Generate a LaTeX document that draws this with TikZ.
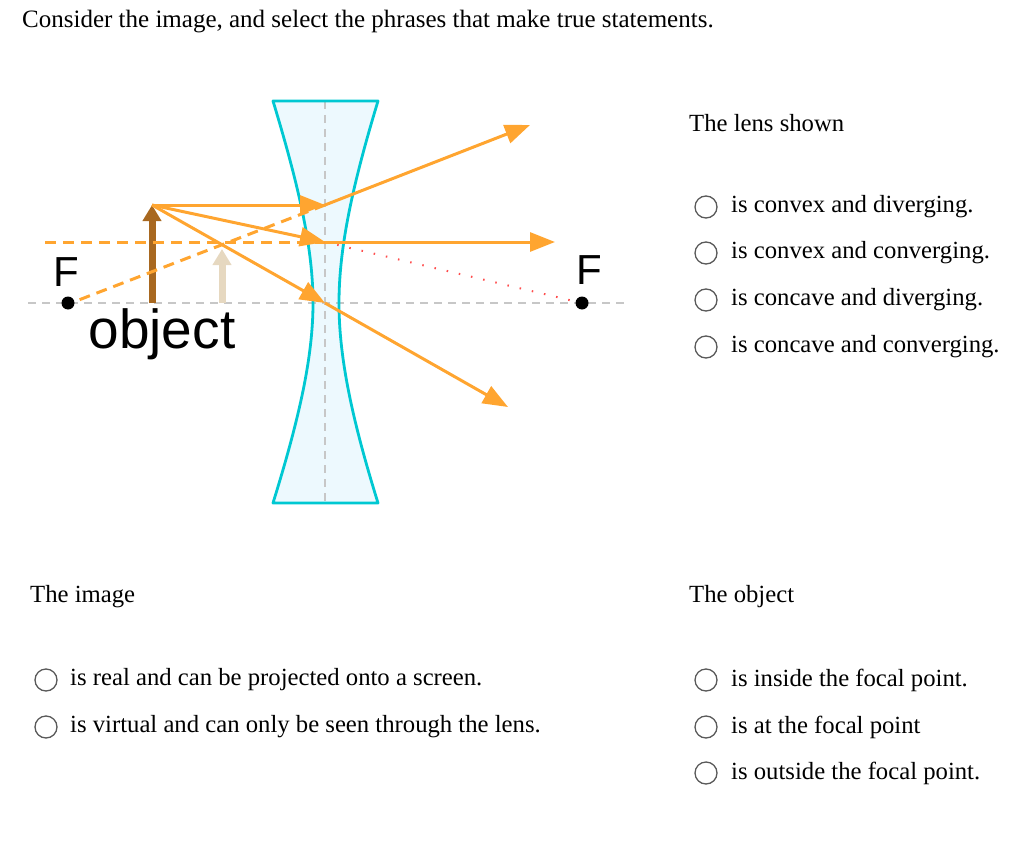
\documentclass[tikz,border=0pt]{standalone}
\usepackage{fontspec}
\setmainfont{Liberation Serif}
\newfontfamily\arial{Liberation Sans}
\usetikzlibrary{arrows.meta}
\begin{document}
\begin{tikzpicture}[x=1pt,y=-1pt,
  ray/.style={draw={rgb,255:red,255;green,165;blue,48},line width=3pt},
  rayarr/.style={ray,-{Triangle[length=25pt,width=19pt]}},
  dray/.style={ray,dash pattern=on 11pt off 7pt},
  axis/.style={draw=black!22,line width=1.5pt,dash pattern=on 8pt off 6pt},
  radio/.style={circle,draw=black!65,line width=1.3pt,minimum size=22pt,inner sep=0pt},
  opt/.style={anchor=west,font=\fontsize{24.7}{26}\selectfont,inner sep=0pt},
  head/.style={anchor=west,font=\fontsize{24.7}{26}\selectfont,inner sep=0pt},
  lensout/.style={draw={rgb,255:red,0;green,200;blue,210},line width=2.8pt,line join=round}]
\useasboundingbox (0,0) rectangle (1024,861);
\node[anchor=west,inner sep=0pt,font=\fontsize{25}{27}\selectfont] (title) at (22,22) {Consider the image, and select the phrases that make true statements.};
% lens
\def\lenspath{(273,101) .. controls (300,190) and (313,250) .. (313,303) .. controls (313,356) and (300,416) .. (273,503) -- (378,503) .. controls (351,416) and (339,356) .. (339,303) .. controls (339,250) and (351,190) .. (378,101) -- cycle}
\fill[cyan!7] \lenspath;
\draw[axis] (325,101) -- (325,503);
\draw[axis] (28,303) -- (625,303);
\draw[lensout] \lenspath;
% points
\coordinate (O) at (152,205);
\coordinate (A) at (325,205);
\coordinate (B) at (325,242);
\coordinate (C) at (325,303);
\coordinate (Fl) at (68,303);
\coordinate (Fr) at (582,303);
\coordinate (E1) at (530,125);
\coordinate (E2) at (555,242);
\coordinate (E3) at (508,407);
\coordinate (D1) at (58,308);
\coordinate (D2) at (45,242);
% object and image arrows
\draw[draw={rgb,255:red,168;green,104;blue,32},line width=7pt,-{Triangle[length=16pt,width=18pt]}] (152,303) -- (O);
\draw[draw={rgb,255:red,230;green,216;blue,192},line width=7pt,-{Triangle[length=16pt,width=18pt]}] (222,303) -- (222,249);
% rays
\draw[dray] (A) -- (D1);
\draw[dray] (D2) -- (B);
\draw[red!70,line width=2pt,dash pattern=on 1.5pt off 11pt] (B) -- (Fr);
\draw[rayarr] (O) -- (A);
\draw[rayarr] (O) -- (B);
\draw[rayarr] (O) -- (C);
\draw[rayarr] (A) -- (E1);
\draw[rayarr] (B) -- (E2);
\draw[rayarr] (C) -- (E3);
\fill (Fl) circle (6.5pt);
\fill (Fr) circle (6.5pt);
\node[font=\arial\fontsize{42}{42}\selectfont,inner sep=0pt] (FL) at (66,272) {F};
\node[font=\arial\fontsize{42}{42}\selectfont,inner sep=0pt] (FR) at (589,270) {F};
\node[font=\arial\fontsize{55}{55}\selectfont,inner sep=0pt] (obj) at (162,334) {object};
% questions
\node[head] (h1) at (689,123) {The lens shown};
\foreach \y/\t [count=\i] in {207/is convex and diverging., 253/is convex and converging., 300/is concave and diverging., 347/is concave and converging.}{
  \node[radio] (r1\i) at (706,\y) {};
  \node[opt] (t1\i) at (731,\y) {\t};
}
\node[head] (h2) at (30,597) {The image};
\foreach \y/\t [count=\i] in {680/is real and can be projected onto a screen., 727/is virtual and can only be seen through the lens.}{
  \node[radio] (r2\i) at (46,\y) {};
  \node[opt] (t2\i) at (70,\y) {\t};
}
\node[head] (h3) at (689,597) {The object};
\foreach \y/\t [count=\i] in {680/is inside the focal point., 727/is at the focal point, 773/is outside the focal point.}{
  \node[radio] (r3\i) at (706,\y) {};
  \node[opt] (t3\i) at (731,\y) {\t};
}
\end{tikzpicture}
\end{document}
